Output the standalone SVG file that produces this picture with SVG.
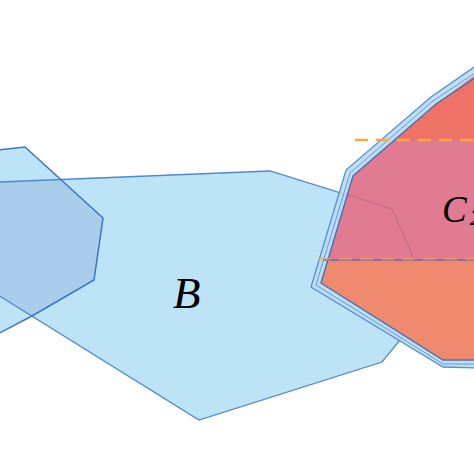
<svg xmlns="http://www.w3.org/2000/svg" width="474" height="474" viewBox="0 0 474 474">
<style>
.lbl{font-family:"Liberation Serif","DejaVu Serif",serif;font-style:italic;fill:#000}
.cut{fill:none;stroke:#f5a93e;stroke-width:2.6;stroke-dasharray:13 8}
</style>
<defs>
<clipPath id="clipB"><polygon points="0,182 270,171 392,209 415,261 418,318 382,362 199,420 0,296"/></clipPath>
<clipPath id="clipR"><polygon points="474,76 436,104 353,176 321,283 443,360 474,360"/></clipPath>
</defs>
<rect width="474" height="474" fill="#fff"/>
<g id="node-A-fill">
<polygon points="-10,151 25,147 103,218 94,280 32,316 -10,338" fill="#bde3f6"/>
</g>
<g id="node-B">
<polygon points="0,182 270,171 392,209 415,261 418,318 382,362 199,420 0,296" fill="#bde3f6"/>
<polygon points="-10,151 25,147 103,218 94,280 32,316 -10,338" fill="#a9cdea" clip-path="url(#clipB)"/>
<polygon points="-10,182.4 270,171 392,209 415,261 418,318 382,362 199,420 -10,290" fill="none" stroke="#4f88cc" stroke-width="1.3"/>
<text class="lbl" x="173" y="308" font-size="45">B</text>
</g>
<g id="node-A">
<polygon points="-10,151 25,147 103,218 94,280 32,316 -10,338" fill="none" stroke="#3d74c4" stroke-width="1.5"/>
</g>
<g id="node-C">
<polygon points="480,63 431,97 346,170 311,287 443,367 480,368" fill="#b7dcf4" fill-opacity="0.9" stroke="#5a8fd0" stroke-width="1.3"/>
<polygon points="478,71 433,101 350,173 316,285 443,364 478,364" fill="none" stroke="#6a9ad6" stroke-width="1"/>
<g clip-path="url(#clipR)">
<rect x="300" y="60" width="180" height="80" fill="#ef7267"/>
<rect x="300" y="140" width="180" height="120" fill="#e07b92"/>
<rect x="300" y="260" width="180" height="110" fill="#f08a6e"/>
<polyline points="330,189 392,209 415,261" fill="none" stroke="#9a5f8e" stroke-width="1" opacity="0.6"/>
</g>
<polygon points="478,76 436,104 353,176 321,283 443,360 478,360" fill="none" stroke="#4b6fb5" stroke-width="1.4"/>
<text class="lbl" x="442" y="222" font-size="37">C<tspan font-size="24" dx="3" dy="3">2</tspan></text>
</g>
<g id="connectors">
<line x1="323" y1="260" x2="474" y2="260" stroke="#6e66ab" stroke-width="1.6"/>
<line class="cut" x1="318" y1="259" x2="474" y2="259" opacity="0.55"/>
<line class="cut" x1="355" y1="140" x2="474" y2="140"/>
</g>
</svg>
